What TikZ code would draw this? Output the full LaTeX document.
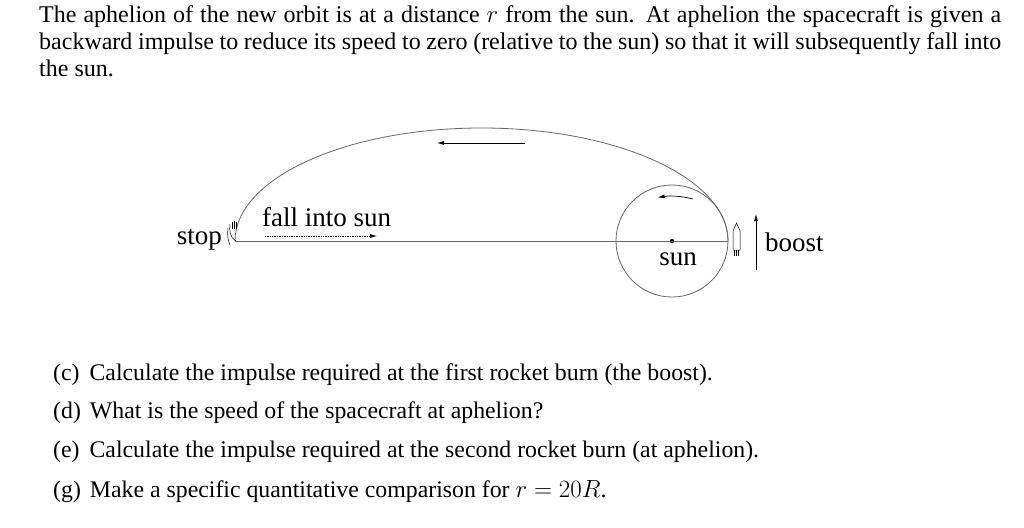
\documentclass[tikz,border=0pt]{standalone}
\usepackage{fontspec}
\setmainfont{Liberation Serif}
\usetikzlibrary{arrows.meta}
\begin{document}
\begin{tikzpicture}[x=1pt,y=-1pt,
  orbit/.style={draw=black!60,line width=0.8pt},
  lab/.style={font=\fontsize{27}{30}\selectfont,inner sep=0pt},
  item/.style={font=\fontsize{23.8}{27}\selectfont,inner sep=0pt,anchor=west},
  arr/.style={-{Latex[length=7pt,width=4pt]},line width=0.7pt}]
\useasboundingbox (0,0) rectangle (1024,527);
\node[anchor=north west,inner sep=0pt,text width=962pt,align=justify,font=\fontsize{24}{27}\selectfont] (para) at (39,5)
 {The aphelion of the new orbit is at a distance $r$ from the sun. At aphelion the spacecraft is given a backward impulse to reduce its speed to zero (relative to the sun) so that it will subsequently fall into the sun.};
% orbit
\coordinate (L) at (235,241);
\coordinate (R) at (728,241);
\node[circle,draw=black!60,line width=0.8pt,minimum size=112pt,inner sep=0pt] (sunc) at (672,241) {};
\fill (672,241) circle (2.2) coordinate (sun);
\draw[orbit] (L) -- (R);
\draw[orbit] (R) arc[start angle=0,end angle=-180,x radius=246.5,y radius=113];
\coordinate (a1) at (525,143); \coordinate (a2) at (437,143);
\draw[arr] (a1) -- (a2);
\draw[arr] (693,199) arc[start angle=-60,end angle=-110,x radius=42,y radius=20];
\coordinate (d1) at (265,236); \coordinate (d2) at (377,236);
\draw[arr,densely dotted] (d1) -- (d2);
% rocket
\draw[line width=0.5pt] (733,250) -- (733,231) -- (736.5,223) -- (740,231) -- (740,250) -- cycle;
\draw[line width=0.4pt] (734.5,250)--(734.5,256) (736.5,250)--(736.5,256) (738.5,250)--(738.5,256);
% stop hand
\draw[line width=0.5pt] (236,241) .. controls (230,238) and (229,230) .. (230,224) (230,245) .. controls (228,240) and (227,235) .. (228,228);
\draw[line width=0.4pt] (232,222)--(232,229) (234,221)--(234,229) (236,222)--(236,229);
% boost arrow
\coordinate (b1) at (756,270); \coordinate (b2) at (756,214);
\draw[arr] (b1) -- (b2);
\node[lab,anchor=west] (boost) at (765,242) {boost};
\node[lab,anchor=east] (stop) at (222,240) {stop};
\node[lab] (sunl) at (678,259) {sun};
\node[lab,anchor=west] (fall) at (262,217) {fall into sun};
\node[item] (c) at (53,375) {(c)\hspace{10pt}Calculate the impulse required at the first rocket burn (the boost).};
\node[item] (d) at (53,413) {(d)\hspace{9pt}What is the speed of the spacecraft at aphelion?};
\node[item] (e) at (53,452) {(e)\hspace{10pt}Calculate the impulse required at the second rocket burn (at aphelion).};
\node[item] (g) at (53,492) {(g)\hspace{9pt}Make a specific quantitative comparison for $r = 20R$.};
\end{tikzpicture}
\end{document}
